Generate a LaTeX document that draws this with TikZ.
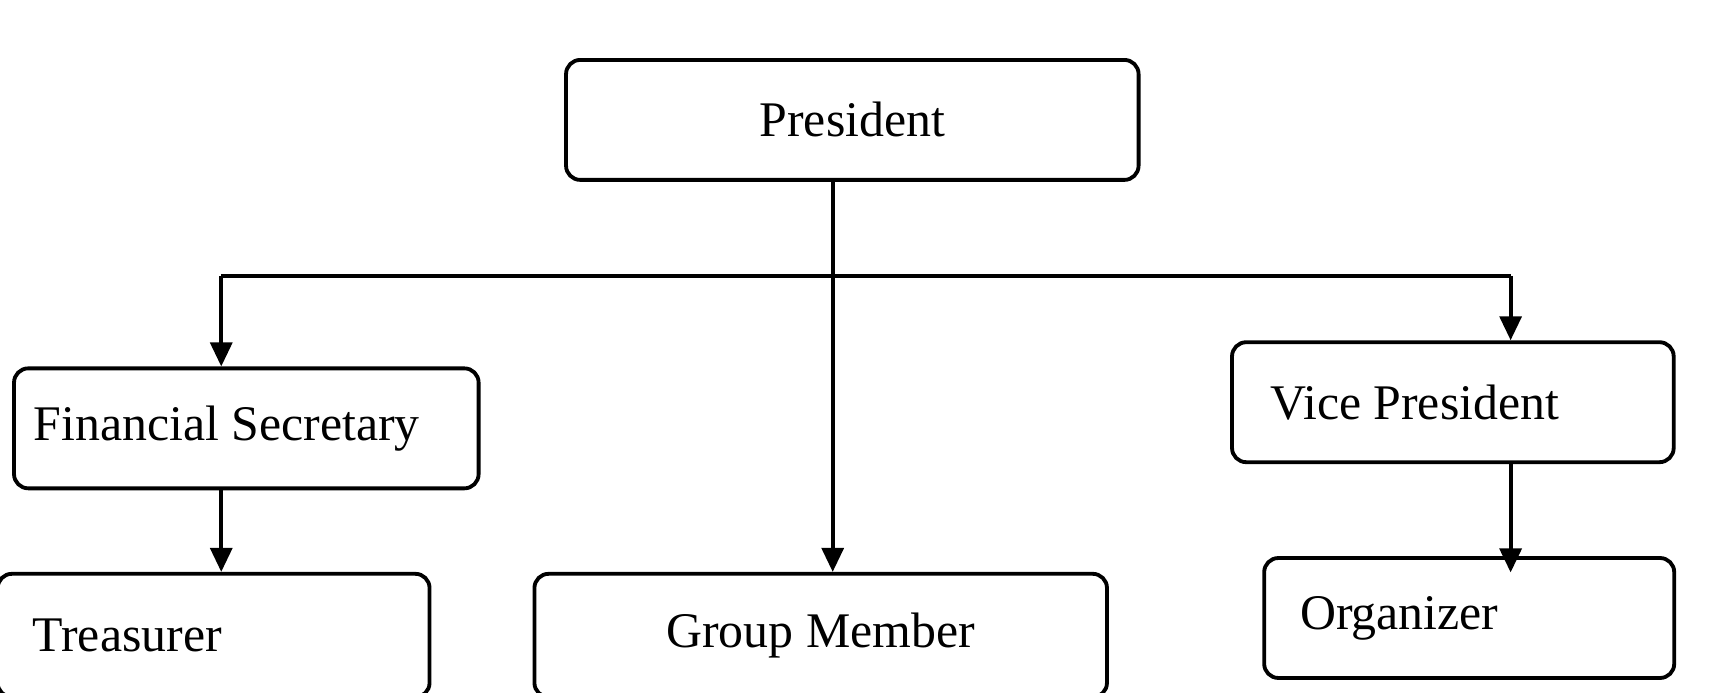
\documentclass[tikz,border=0pt]{standalone}
\usepackage{fontspec}
\setmainfont{Liberation Serif}
\usetikzlibrary{arrows.meta}
\tikzset{post/.style={draw, rounded corners=0.13cm, line width=1pt, minimum height=1.1cm,
         font=\fontsize{13}{16}\selectfont, inner xsep=0pt},
         link/.style={line width=1pt},
         arr/.style={link, -{Triangle[length=0.22cm,width=0.2cm]}}}
\begin{document}
\begin{tikzpicture}[x=0.01cm,y=-0.01cm]
  \useasboundingbox (0,0) rectangle (1568,635);
  \node[post, minimum width=5.25cm] (pres) at (782,110) {President};
  \node[post, minimum width=4.26cm, text width=3.9cm, align=flush left] (fin) at (226,393) {Financial Secretary};
  \node[post, minimum width=4.05cm, text width=3.35cm, align=flush left] (vp) at (1333,369) {Vice President};
  \node[post, minimum width=3.96cm, minimum height=1.13cm, text width=3.32cm, align=flush left] (tre) at (196,583) {Treasurer};
  \node[post, minimum width=5.25cm, minimum height=1.13cm] (grp) at (753,583) {Group Member};
  \node[post, minimum width=3.76cm, text width=3.10cm, align=flush left] (org) at (1348,567) {Organizer};
  \coordinate (hl) at (203,253);
  \coordinate (hr) at (1386,253);
  \draw[arr] (pres.south -| grp.north) ++(11,0) coordinate (pd) -- (pd |- grp.north);
  \draw[link] (hl) -- (hr);
  \draw[arr] (hl) -- (hl |- fin.north);
  \draw[arr] (hr) -- (hr |- vp.north);
  \draw[arr] (hl |- fin.south) -- (hl |- tre.north);
  \draw[arr] (hr |- vp.south) -- ([yshift=-0.15cm]hr |- org.north);
\end{tikzpicture}
\end{document}
